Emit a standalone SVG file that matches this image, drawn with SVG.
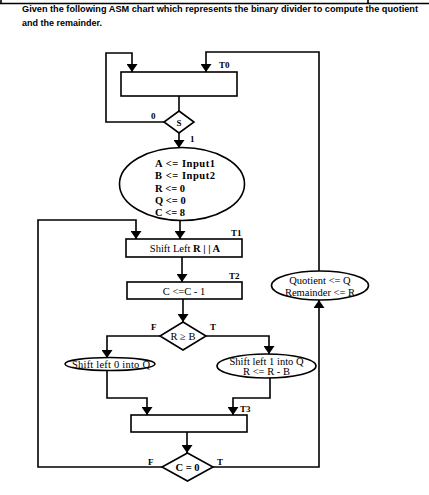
<svg xmlns="http://www.w3.org/2000/svg" width="429" height="495" viewBox="0 0 429 495">
<defs>
<marker id="arr" viewBox="0 0 10 10" refX="10" refY="5" markerWidth="8" markerHeight="11" orient="auto" markerUnits="userSpaceOnUse" preserveAspectRatio="none">
<path d="M0,0 L10,5 L0,10 z" fill="#000"/>
</marker>
</defs>
<style>
.ln{fill:none;stroke:#000;stroke-width:1.6}
.ar{fill:none;stroke:#000;stroke-width:1.6;marker-end:url(#arr)}
.bx{fill:#fff;stroke:#000;stroke-width:1.6}
.t{font-family:"Liberation Serif","DejaVu Serif",serif;font-size:10.5px;fill:#000}
.b{font-weight:bold}
.lb{font-family:"Liberation Serif","DejaVu Serif",serif;font-size:9px;font-weight:bold;fill:#000}
.hd{font-family:"Liberation Sans","DejaVu Sans",sans-serif;font-size:8.8px;font-weight:bold;fill:#000}
</style>
<rect width="429" height="495" fill="#fff"/>
<g id="header">
<path class="ln" d="M0,3.5 H429 M368,0 V3.5 M1,0 V3.5" stroke-width="1"/>
<text class="hd" x="22" y="12" textLength="396" lengthAdjust="spacingAndGlyphs">Given the following ASM chart which represents the binary divider to compute the quotient</text>
<text class="hd" x="22" y="26" textLength="80" lengthAdjust="spacingAndGlyphs">and the remainder.</text>
</g>
<g id="connectors">
<path class="ar" d="M164,122 H106 V53 H132 V72"/>
<path class="ar" d="M319,271 V52 H206 V72"/>
<path class="ln" d="M179,96 V111"/>
<path class="ar" d="M179,133 V148"/>
<path class="ar" d="M180,221 V239"/>
<path class="ar" d="M162,467 H38 V220 H136 V239"/>
<path class="ar" d="M182,257 V282"/>
<path class="ar" d="M183,299 V322"/>
<path class="ar" d="M160,336 H107 V358"/>
<path class="ar" d="M206,336 H269 V354"/>
<path class="ar" d="M107,370 V398 H147 V415"/>
<path class="ar" d="M270,378 V398 H233 V415"/>
<path class="ar" d="M187,432 V453"/>
<path class="ar" d="M213,467 H319 V300"/>
</g>
<g id="state-T0">
<rect class="bx" x="121" y="72" width="116" height="24"/>
<text class="lb" x="219" y="68">T0</text>
</g>
<g id="decision-S">
<polygon class="bx" points="179,111 194,122 179,133 164,122"/>
<text class="lb" x="179" y="125.5" text-anchor="middle">S</text>
<text class="lb" x="151" y="119">0</text>
<text class="lb" x="190" y="142">1</text>
</g>
<g id="init">
<ellipse class="bx" cx="182" cy="184" rx="62.5" ry="36.5"/>
<text class="t b" x="155" y="166.5" textLength="60">A &lt;= Input1</text>
<text class="t b" x="155" y="179" textLength="60">B &lt;= Input2</text>
<text class="t b" x="155" y="191.5">R &lt;= 0</text>
<text class="t b" x="155" y="204">Q &lt;= 0</text>
<text class="t b" x="155" y="216">C &lt;= 8</text>
</g>
<g id="state-T1">
<rect class="bx" x="126" y="239" width="116" height="18"/>
<text class="t" x="185" y="252" text-anchor="middle">Shift Left  <tspan class="b">R | | A</tspan></text>
<text class="lb" x="231" y="236">T1</text>
</g>
<g id="state-T2">
<rect class="bx" x="127" y="282" width="115" height="17"/>
<text class="t" x="184" y="294.5" text-anchor="middle">C &lt;=C - 1</text>
<text class="lb" x="229" y="279">T2</text>
</g>
<g id="decision-RB">
<polygon class="bx" points="183,322 206,336 183,350 160,336"/>
<text class="t" x="183" y="339.5" text-anchor="middle">R ≥ B</text>
<text class="lb" x="151" y="330">F</text>
<text class="lb" x="210" y="330">T</text>
</g>
<g id="shift0">
<ellipse class="bx" cx="110" cy="364" rx="45" ry="6.5"/>
<text class="t" x="111" y="367.5" text-anchor="middle" textLength="78">Shift left 0 into Q</text>
</g>
<g id="shift1">
<ellipse class="bx" cx="266.5" cy="366" rx="49.5" ry="12"/>
<text class="t" x="266.5" y="365" text-anchor="middle">Shift left 1 into Q</text>
<text class="t" x="266.5" y="375" text-anchor="middle">R &lt;=  R - B</text>
</g>
<g id="state-T3">
<rect class="bx" x="131" y="415" width="116" height="17"/>
<text class="lb" x="240" y="412">T3</text>
</g>
<g id="decision-C0">
<polygon class="bx" points="187.5,453 213,467 187.5,481 162,467"/>
<text class="t b" x="187.5" y="470.5" text-anchor="middle">C = 0</text>
<text class="lb" x="148" y="465">F</text>
<text class="lb" x="217" y="465">T</text>
</g>
<g id="output">
<ellipse class="bx" cx="320" cy="285.5" rx="48.5" ry="14.5"/>
<text class="t" x="320" y="283.5" text-anchor="middle">Quotient &lt;= Q</text>
<text class="t" x="320" y="295.5" text-anchor="middle">Remainder &lt;=  R</text>
</g>
</svg>
